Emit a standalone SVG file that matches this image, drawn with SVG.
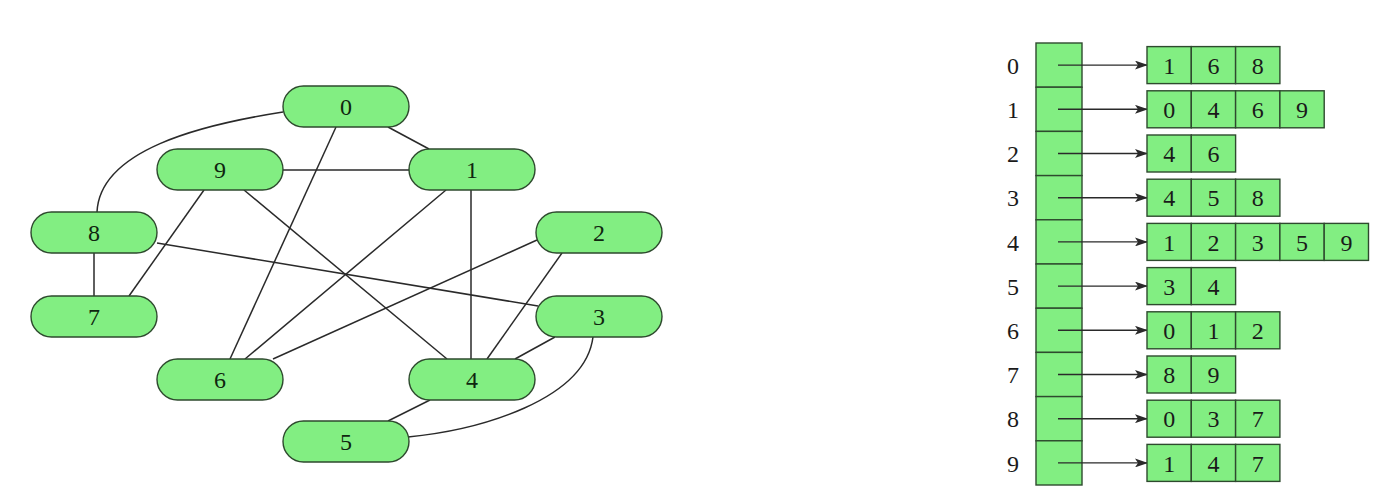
<svg xmlns="http://www.w3.org/2000/svg" width="1400" height="497" viewBox="0 0 1400 497">
<style>
.node rect{fill:#82ee82;stroke:#2e4a2e;stroke-width:1.4}
.lbl{font-family:"Liberation Serif","DejaVu Serif",serif;font-size:24px;fill:#0f260f;text-anchor:middle}
.edge{fill:none;stroke:#2a2a2a;stroke-width:1.5}
.cell{fill:#82ee82;stroke:#2e4a2e;stroke-width:1.4}
.ptr{stroke:#2a2a2a;stroke-width:1.4;fill:none}
.idx{font-family:"Liberation Serif","DejaVu Serif",serif;font-size:24px;fill:#1a1a1a;text-anchor:middle}
</style>
<defs>
<marker id="ah" markerWidth="13" markerHeight="9" refX="12" refY="4.5" orient="auto" markerUnits="userSpaceOnUse">
<path d="M0,0 L13,4.5 L0,9 L3,4.5 Z" fill="#2a2a2a"/>
</marker>
</defs>
<rect width="1400" height="497" fill="#fff"/>
<g id="edges">
<path class="edge" d="M283,112 C200,125 100,150 97,212"/>
<line class="edge" x1="388" y1="127" x2="429" y2="149"/>
<line class="edge" x1="336" y1="127" x2="230" y2="359"/>
<line class="edge" x1="283" y1="170" x2="409" y2="170"/>
<line class="edge" x1="204" y1="190" x2="129" y2="296"/>
<line class="edge" x1="244" y1="190" x2="447" y2="359"/>
<line class="edge" x1="157" y1="243" x2="538" y2="306"/>
<line class="edge" x1="94" y1="253" x2="94" y2="296"/>
<line class="edge" x1="446" y1="190" x2="245" y2="359"/>
<line class="edge" x1="471" y1="190" x2="471" y2="359"/>
<line class="edge" x1="537" y1="240" x2="273" y2="359"/>
<line class="edge" x1="562" y1="253" x2="487" y2="359"/>
<line class="edge" x1="555" y1="337" x2="515" y2="359"/>
<path class="edge" d="M593,337 C585,400 480,430 408,437"/>
<line class="edge" x1="430" y1="400" x2="388" y2="421"/>
</g>
<g id="n0" class="node"><rect x="283" y="86" width="126" height="41" rx="20.5"/><text class="lbl" x="346" y="115">0</text></g>
<g id="n1" class="node"><rect x="409" y="149" width="126" height="41" rx="20.5"/><text class="lbl" x="472" y="178">1</text></g>
<g id="n9" class="node"><rect x="157" y="149" width="126" height="41" rx="20.5"/><text class="lbl" x="220" y="178">9</text></g>
<g id="n8" class="node"><rect x="31" y="212" width="126" height="41" rx="20.5"/><text class="lbl" x="94" y="241">8</text></g>
<g id="n2" class="node"><rect x="536" y="212" width="126" height="41" rx="20.5"/><text class="lbl" x="599" y="241">2</text></g>
<g id="n7" class="node"><rect x="31" y="296" width="126" height="41" rx="20.5"/><text class="lbl" x="94" y="325">7</text></g>
<g id="n3" class="node"><rect x="536" y="296" width="126" height="41" rx="20.5"/><text class="lbl" x="599" y="325">3</text></g>
<g id="n6" class="node"><rect x="157" y="359" width="126" height="41" rx="20.5"/><text class="lbl" x="220" y="388">6</text></g>
<g id="n4" class="node"><rect x="409" y="359" width="126" height="41" rx="20.5"/><text class="lbl" x="472" y="388">4</text></g>
<g id="n5" class="node"><rect x="283" y="421" width="126" height="41" rx="20.5"/><text class="lbl" x="346" y="450">5</text></g>
<g id="adjacency">
<g id="array">
<rect class="cell" x="1036" y="43" width="46" height="44.2"/>
<rect class="cell" x="1036" y="87.2" width="46" height="44.2"/>
<rect class="cell" x="1036" y="131.4" width="46" height="44.2"/>
<rect class="cell" x="1036" y="175.6" width="46" height="44.2"/>
<rect class="cell" x="1036" y="219.8" width="46" height="44.2"/>
<rect class="cell" x="1036" y="264" width="46" height="44.2"/>
<rect class="cell" x="1036" y="308.2" width="46" height="44.2"/>
<rect class="cell" x="1036" y="352.4" width="46" height="44.2"/>
<rect class="cell" x="1036" y="396.6" width="46" height="44.2"/>
<rect class="cell" x="1036" y="440.8" width="46" height="44.2"/>
<text class="idx" x="1013" y="73.5">0</text>
<text class="idx" x="1013" y="117.5">1</text>
<text class="idx" x="1013" y="162">2</text>
<text class="idx" x="1013" y="206">3</text>
<text class="idx" x="1013" y="250.5">4</text>
<text class="idx" x="1013" y="294.5">5</text>
<text class="idx" x="1013" y="339">6</text>
<text class="idx" x="1013" y="383">7</text>
<text class="idx" x="1013" y="427">8</text>
<text class="idx" x="1013" y="471.5">9</text>
</g>
<g id="pointers">
<line class="ptr" x1="1058" y1="65.1" x2="1147" y2="65.1" marker-end="url(#ah)"/>
<line class="ptr" x1="1058" y1="109.3" x2="1147" y2="109.3" marker-end="url(#ah)"/>
<line class="ptr" x1="1058" y1="153.5" x2="1147" y2="153.5" marker-end="url(#ah)"/>
<line class="ptr" x1="1058" y1="197.7" x2="1147" y2="197.7" marker-end="url(#ah)"/>
<line class="ptr" x1="1058" y1="241.9" x2="1147" y2="241.9" marker-end="url(#ah)"/>
<line class="ptr" x1="1058" y1="286.1" x2="1147" y2="286.1" marker-end="url(#ah)"/>
<line class="ptr" x1="1058" y1="330.3" x2="1147" y2="330.3" marker-end="url(#ah)"/>
<line class="ptr" x1="1058" y1="374.5" x2="1147" y2="374.5" marker-end="url(#ah)"/>
<line class="ptr" x1="1058" y1="418.7" x2="1147" y2="418.7" marker-end="url(#ah)"/>
<line class="ptr" x1="1058" y1="462.9" x2="1147" y2="462.9" marker-end="url(#ah)"/>
</g>
<g id="list0">
<rect class="cell" x="1147" y="46.6" width="44.3" height="37"/><text class="idx" x="1169.2" y="73.5">1</text>
<rect class="cell" x="1191.3" y="46.6" width="44.3" height="37"/><text class="idx" x="1213.5" y="73.5">6</text>
<rect class="cell" x="1235.6" y="46.6" width="44.3" height="37"/><text class="idx" x="1257.8" y="73.5">8</text>
</g>
<g id="list1">
<rect class="cell" x="1147" y="90.8" width="44.3" height="37"/><text class="idx" x="1169.2" y="117.5">0</text>
<rect class="cell" x="1191.3" y="90.8" width="44.3" height="37"/><text class="idx" x="1213.5" y="117.5">4</text>
<rect class="cell" x="1235.6" y="90.8" width="44.3" height="37"/><text class="idx" x="1257.8" y="117.5">6</text>
<rect class="cell" x="1279.9" y="90.8" width="44.3" height="37"/><text class="idx" x="1302.1" y="117.5">9</text>
</g>
<g id="list2">
<rect class="cell" x="1147" y="135" width="44.3" height="37"/><text class="idx" x="1169.2" y="162">4</text>
<rect class="cell" x="1191.3" y="135" width="44.3" height="37"/><text class="idx" x="1213.5" y="162">6</text>
</g>
<g id="list3">
<rect class="cell" x="1147" y="179.2" width="44.3" height="37"/><text class="idx" x="1169.2" y="206">4</text>
<rect class="cell" x="1191.3" y="179.2" width="44.3" height="37"/><text class="idx" x="1213.5" y="206">5</text>
<rect class="cell" x="1235.6" y="179.2" width="44.3" height="37"/><text class="idx" x="1257.8" y="206">8</text>
</g>
<g id="list4">
<rect class="cell" x="1147" y="223.4" width="44.3" height="37"/><text class="idx" x="1169.2" y="250.5">1</text>
<rect class="cell" x="1191.3" y="223.4" width="44.3" height="37"/><text class="idx" x="1213.5" y="250.5">2</text>
<rect class="cell" x="1235.6" y="223.4" width="44.3" height="37"/><text class="idx" x="1257.8" y="250.5">3</text>
<rect class="cell" x="1279.9" y="223.4" width="44.3" height="37"/><text class="idx" x="1302.1" y="250.5">5</text>
<rect class="cell" x="1324.2" y="223.4" width="44.3" height="37"/><text class="idx" x="1346.4" y="250.5">9</text>
</g>
<g id="list5">
<rect class="cell" x="1147" y="267.6" width="44.3" height="37"/><text class="idx" x="1169.2" y="294.5">3</text>
<rect class="cell" x="1191.3" y="267.6" width="44.3" height="37"/><text class="idx" x="1213.5" y="294.5">4</text>
</g>
<g id="list6">
<rect class="cell" x="1147" y="311.8" width="44.3" height="37"/><text class="idx" x="1169.2" y="339">0</text>
<rect class="cell" x="1191.3" y="311.8" width="44.3" height="37"/><text class="idx" x="1213.5" y="339">1</text>
<rect class="cell" x="1235.6" y="311.8" width="44.3" height="37"/><text class="idx" x="1257.8" y="339">2</text>
</g>
<g id="list7">
<rect class="cell" x="1147" y="356" width="44.3" height="37"/><text class="idx" x="1169.2" y="383">8</text>
<rect class="cell" x="1191.3" y="356" width="44.3" height="37"/><text class="idx" x="1213.5" y="383">9</text>
</g>
<g id="list8">
<rect class="cell" x="1147" y="400.2" width="44.3" height="37"/><text class="idx" x="1169.2" y="427">0</text>
<rect class="cell" x="1191.3" y="400.2" width="44.3" height="37"/><text class="idx" x="1213.5" y="427">3</text>
<rect class="cell" x="1235.6" y="400.2" width="44.3" height="37"/><text class="idx" x="1257.8" y="427">7</text>
</g>
<g id="list9">
<rect class="cell" x="1147" y="444.4" width="44.3" height="37"/><text class="idx" x="1169.2" y="471.5">1</text>
<rect class="cell" x="1191.3" y="444.4" width="44.3" height="37"/><text class="idx" x="1213.5" y="471.5">4</text>
<rect class="cell" x="1235.6" y="444.4" width="44.3" height="37"/><text class="idx" x="1257.8" y="471.5">7</text>
</g>
</g>
</svg>
